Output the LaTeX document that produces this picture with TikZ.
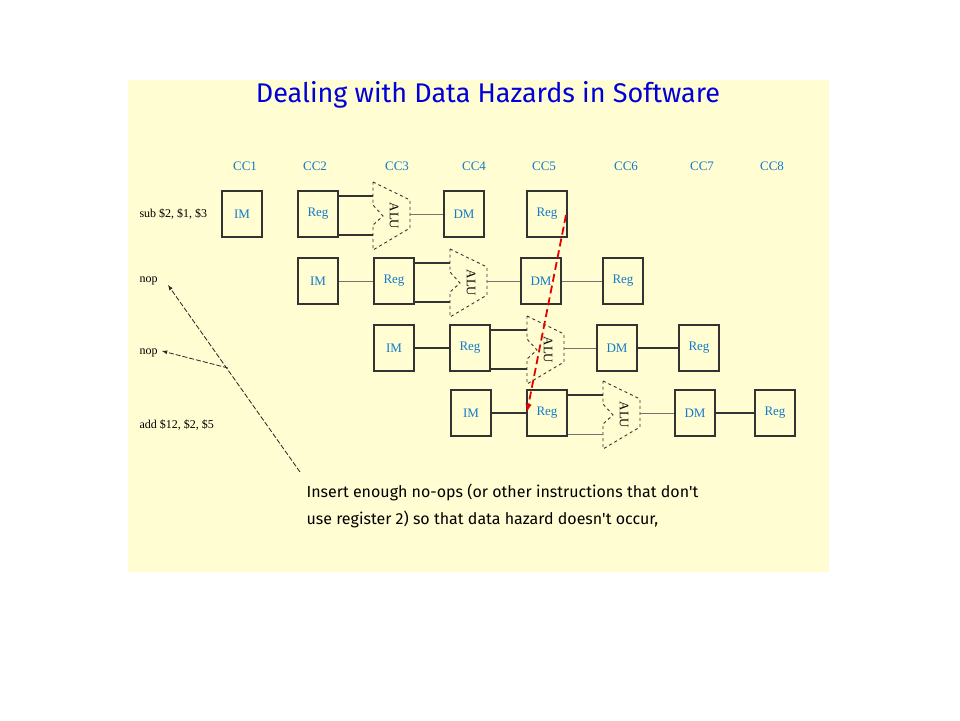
\documentclass[tikz,border=0pt]{standalone}
\usepackage{fontspec}
\setmainfont{Liberation Serif}
\newfontfamily\titlefont{Fira Sans}
\begin{document}
\begin{tikzpicture}[x=1pt,y=-1pt,
  stg/.style={draw=black!80,line width=1.1pt,minimum width=40pt,minimum height=46pt,inner sep=0pt,text=cyan!60!blue,font=\fontsize{13}{15}\selectfont},
  cc/.style={text=cyan!60!blue,font=\fontsize{13}{15}\selectfont},
  instr/.style={anchor=west,font=\fontsize{12}{14}\selectfont},
  thk/.style={draw=black!80,line width=1.3pt},
  thn/.style={draw=black!55,line width=0.6pt},
  alu/.style={draw=black!80,dashed,line width=0.9pt}]
\useasboundingbox (0,0) rectangle (960,720);
\fill[yellow!18] (128,80) rectangle (829,572);
\node[text=blue!85!black,font=\titlefont\fontsize{27}{30}\selectfont] (title) at (488,95) {Dealing with Data Hazards in Software};
\foreach \i/\x in {1/245,2/315,3/397,4/474,5/544,6/626,7/702,8/772}
  \node[cc] (cc\i) at (\x,166) {CC\i};
\node[instr] (i1) at (136,214) {sub \$2, \$1, \$3};
\node[instr] (i2) at (136,281) {nop};
\node[instr] (i3) at (136,353) {nop};
\node[instr] (i4) at (136,425) {add \$12, \$2, \$5};
\newcommand{\aluat}[3]{%
  \draw[alu] (#2,#3-32) -- (#2+37,#3-14) -- (#2+37,#3+14) -- (#2,#3+36) -- (#2,#3+11) -- (#2+10,#3+2) -- (#2,#3-9) -- cycle;
  \coordinate (#1in1) at (#2,#3-18);
  \coordinate (#1in2) at (#2,#3+21);
  \coordinate (#1out) at (#2+37,#3);
  \node[rotate=-90,font=\fontsize{13}{15}\selectfont] (#1t) at (#2+21,#3+2) {ALU};}
% row 1
\node[stg] (im1) at (242,214) {IM};
\node[stg] (rg1) at (318,214) {Reg};
\aluat{a1}{373}{214}
\node[stg] (dm1) at (464,214) {DM};
\node[stg] (wb1) at (547,214) {Reg};
\draw[thk] (rg1.east |- a1in1) -- (a1in1);
\draw[thk] (rg1.east |- a1in2) -- (a1in2);
\draw[thn] (a1out) -- (dm1.west);
% row 2
\node[stg] (im2) at (318,281) {IM};
\node[stg] (rg2) at (394,281) {Reg};
\aluat{a2}{450}{281}
\node[stg] (dm2) at (541,281) {DM};
\node[stg] (wb2) at (623,281) {Reg};
\draw[thn] (im2) -- (rg2);
\draw[thk] (rg2.east |- a2in1) -- (a2in1);
\draw[thk] (rg2.east |- a2in2) -- (a2in2);
\draw[thn] (a2out) -- (dm2.west);
\draw[thn] (dm2) -- (wb2);
% row 3
\node[stg] (im3) at (394,348) {IM};
\node[stg] (rg3) at (470,348) {Reg};
\aluat{a3}{527}{348}
\node[stg] (dm3) at (617,348) {DM};
\node[stg] (wb3) at (699,348) {Reg};
\draw[thk] (im3) -- (rg3);
\draw[thk] (rg3.east |- a3in1) -- (a3in1);
\draw[thk] (rg3.east |- a3in2) -- (a3in2);
\draw[thn] (a3out) -- (dm3.west);
\draw[thk] (dm3) -- (wb3);
% row 4
\node[stg] (im4) at (471,413) {IM};
\node[stg] (rg4) at (547,413) {Reg};
\aluat{a4}{603}{413}
\node[stg] (dm4) at (695,413) {DM};
\node[stg] (wb4) at (775,413) {Reg};
\draw[thk] (im4) -- (rg4);
\draw[thk] (rg4.east |- a4in1) -- (a4in1);
\draw[thn] (rg4.east |- a4in2) -- (a4in2);
\draw[thn] (a4out) -- (dm4.west);
\draw[thk] (dm4) -- (wb4);
% hazard arrow
\coordinate (hs) at (566,215);
\coordinate (he) at (527,412);
\draw[red!90!black,line width=1.8pt,dash pattern=on 8pt off 4pt,-latex] (hs) -- (he);
% annotation arrows
\coordinate (ap) at (300,472);
\coordinate (br) at (228,368);
\draw[black!85,line width=0.8pt,dash pattern=on 5pt off 2pt,-latex] (ap) -- (168,285);
\draw[black!85,line width=0.8pt,dash pattern=on 5pt off 2pt,-latex] (br) -- (162,351);
\node[anchor=west,font=\titlefont\fontsize{16}{19}\selectfont,align=left] (note) at (303,506) {Insert enough no-ops (or other instructions that don't\\[8pt]use register 2) so that data hazard doesn't occur,};
\end{tikzpicture}
\end{document}
